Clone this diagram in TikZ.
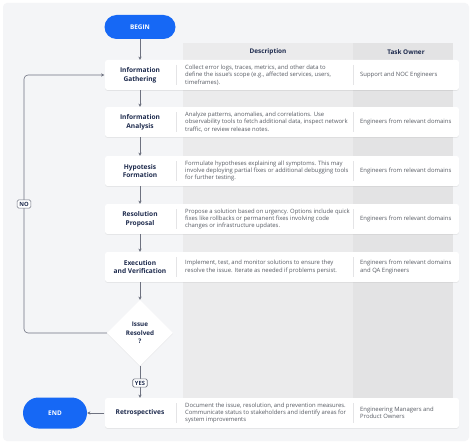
\documentclass[tikz,border=0pt]{standalone}
\usepackage{fontspec}
\setmainfont{Open Sans}
\usetikzlibrary{shapes.geometric,arrows.meta,shadows}

\definecolor{panelgray}{HTML}{F4F5F7}
\definecolor{desccol}{HTML}{EBEBEC}
\definecolor{ownercol}{HTML}{E3E3E4}
\definecolor{navy}{HTML}{1D2A4D}
\definecolor{desctext}{HTML}{585C64}
\definecolor{flowgray}{HTML}{6E7280}
\definecolor{sepgray}{HTML}{E4E4E6}
\definecolor{termblue}{HTML}{1668F5}

\tikzset{
    stepbox/.style={rectangle, minimum width=71pt, minimum height=30pt, inner sep=0pt,
        align=center, text=navy, font=\fontsize{6.6}{8.7}\selectfont\bfseries},
    rowbox/.style={fill=white, rounded corners=2.5pt,
        drop shadow={shadow xshift=0pt, shadow yshift=-0.8pt, opacity=0.07, fill=black}},
    desc/.style={anchor=west, align=left, inner sep=0pt, text=desctext,
        font=\fontsize{5.9}{7.3}\selectfont},
    terminal/.style={rectangle, fill=termblue, text=white, inner sep=0pt,
        font=\fontsize{6.4}{7}\selectfont\bfseries},
    flow/.style={draw=flowgray, line width=0.6pt, -{Stealth[length=3.2pt,width=3.2pt]}},
    answer/.style={draw=flowgray, fill=white, line width=0.6pt, rounded corners=1.5pt,
        inner xsep=2.2pt, inner ysep=2pt, text=navy, font=\fontsize{5.8}{6}\selectfont\bfseries},
    sepline/.style={draw=sepgray, line width=0.5pt}
}

\begin{document}
\begin{tikzpicture}[x=1pt,y=-1pt]
\useasboundingbox (0,0) rectangle (474,444);
% background panel
\fill[white] (0,0) rectangle (474,444);
\fill[panelgray, rounded corners=4pt] (3,3) rectangle (469,441);

% table columns
\fill[desccol] (183,43) rectangle (353,402);
\fill[ownercol] (353,43) rectangle (453,402);
\node[text=navy, font=\fontsize{6.4}{7}\selectfont\bfseries] (deschead) at (268,52) {Description};
\node[text=navy, font=\fontsize{6.4}{7}\selectfont\bfseries] (ownerhead) at (406,52) {Task Owner};

% rows
\foreach \y in {75,122,171,219,267,413}{
    \path[rowbox] (105,\y-15) rectangle (459,\y+15);
    \draw[sepline] (176,\y-10) -- (176,\y+10);
    \draw[sepline] (353,\y-10) -- (353,\y+10);
}

\begin{scope}
    \node[terminal, minimum width=71pt, minimum height=24pt, rounded corners=12pt] (begin) at (140,27) {BEGIN};

    \node[stepbox] (gather) at (140,75) {Information\\Gathering};
    \node[stepbox] (analysis) at (140,122) {Information\\Analysis};
    \node[stepbox] (hypo) at (140,171) {Hypotesis\\Formation};
    \node[stepbox] (proposal) at (140,219) {Resolution\\Proposal};
    \node[stepbox] (exec) at (140,267) {Execution\\and Verification};
    \node[diamond, aspect=1, minimum width=66pt, minimum height=66pt, inner sep=0pt, fill=white,
        drop shadow={shadow xshift=0pt, shadow yshift=-0.8pt, opacity=0.07, fill=black},
        align=center, text=navy, font=\fontsize{6.3}{8.3}\selectfont\bfseries] (check) at (140,333) {Issue\\Resolved\\?};
    \node[stepbox] (retro) at (140,413) {Retrospectives};

    \node[terminal, minimum width=64pt, minimum height=31pt, rounded corners=15.5pt] (end) at (55,413) {END};
\end{scope}

% description and owner texts
\node[desc] (gatherdesc) at (185,75) {Collect error logs, traces, metrics, and other data to\\define the issue's scope (e.g., affected services, users,\\timeframes).};
\node[desc] (gatherowner) at (360,75) {Support and NOC Engineers};
\node[desc] (analysisdesc) at (185,122) {Analyze patterns, anomalies, and correlations. Use\\observability tools to fetch additional data, inspect network\\traffic, or review release notes.};
\node[desc] (analysisowner) at (360,122) {Engineers from relevant domains};
\node[desc] (hypodesc) at (185,171) {Formulate hypotheses explaining all symptoms. This may\\involve deploying partial fixes or additional debugging tools\\for further testing.};
\node[desc] (hypoowner) at (360,171) {Engineers from relevant domains};
\node[desc] (proposaldesc) at (185,219) {Propose a solution based on urgency. Options include quick\\fixes like rollbacks or permanent fixes involving code\\changes or infrastructure updates.};
\node[desc] (proposalowner) at (360,219) {Engineers from relevant domains};
\node[desc] (execdesc) at (185,267) {Implement, test, and monitor solutions to ensure they\\resolve the issue. Iterate as needed if problems persist.};
\node[desc] (execowner) at (360,267) {Engineers from relevant domains\\and QA Engineers};
\node[desc] (retrodesc) at (185,413) {Document the issue, resolution, and prevention measures.\\Communicate status to stakeholders and identify areas for\\system improvements};
\node[desc] (retroowner) at (360,413) {Engineering Managers and\\Product Owners};

% connectors
\foreach \from/\to in {begin/gather, gather/analysis, analysis/hypo, hypo/proposal, proposal/exec, exec/check, check/retro}
    \draw[flow] (\from.south) -- (\to.north);
\draw[flow] (retro.west) -- (end.east);

% loop back
\coordinate (nolow) at (24,333);
\coordinate (nohigh) at (24,75);
\draw[flow, rounded corners=4pt] (check.west) -- (nolow) -- (nohigh) -- (gather.west);

\node[answer] (no) at (24,204) {NO};
\node[answer] (yes) at (140,383) {YES};
\end{tikzpicture}
\end{document}
